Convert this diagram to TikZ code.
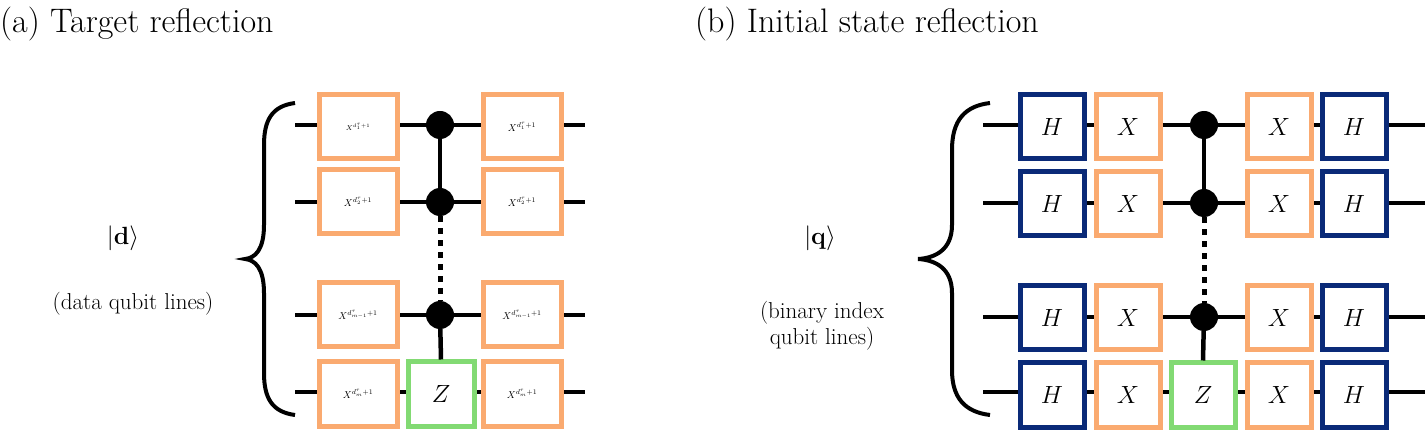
\documentclass[tikz,border=0pt]{standalone}
\usepackage{amsmath,amssymb}
\begin{document}
\begin{tikzpicture}[x=1pt,y=-1pt,
 wire/.style={line width=4.5pt},
 gate/.style={draw,fill=white,line width=5pt,minimum width=78pt,minimum height=64pt,inner sep=0pt,anchor=center},
 og/.style={gate,draw={rgb,255:red,250;green,170;blue,112}},
 bg/.style={gate,draw={rgb,255:red,10;green,42;blue,120}},
 gg/.style={gate,draw={rgb,255:red,130;green,218;blue,115}},
 ctl/.style={circle,fill=black,minimum size=28pt,inner sep=0pt},
 big/.style={font=\fontsize{40}{44}\selectfont},
 lbl/.style={font=\fontsize{23}{26}\selectfont},
 br/.style={line width=4pt}]
\useasboundingbox (0,0) rectangle (1425,430);
\node[anchor=base west,font=\fontsize{34}{38}\selectfont,inner sep=0] (ta) at (0,33) {(a) Target reflection};
\node[anchor=base west,font=\fontsize{34}{38}\selectfont,inner sep=0] (tb) at (695,33) {(b) Initial state reflection};
% left
\foreach \i/\y in {1/125,2/202,3/315,4/392}{
 \coordinate (la\i) at (295,\y); \coordinate (lb\i) at (585,\y);
 \draw[wire] (la\i) -- (lb\i);}
\node[og] (l11) at (358,127) {$\scriptstyle X^{d_1^\tau+1}$};
\node[og] (l12) at (358,202) {$X^{d_2^\tau+1}$};
\node[og] (l13) at (358,315) {$X^{d_{m-1}^\tau+1}$};
\node[og] (l14) at (358,394) {$X^{d_m^\tau+1}$};
\node[og] (l31) at (522,127) {$X^{d_1^\tau+1}$};
\node[og] (l32) at (522,202) {$X^{d_2^\tau+1}$};
\node[og] (l33) at (522,315) {$X^{d_{m-1}^\tau+1}$};
\node[og] (l34) at (522,394) {$X^{d_m^\tau+1}$};
\node[gg,minimum width=66pt] (lz) at (441,394) {\fontsize{40}{44}\selectfont$Z$};
\node[ctl] (lc1) at (440,125) {};
\node[ctl] (lc2) at (440,202) {};
\node[ctl] (lc3) at (440,315) {};
\draw[wire] (lc1) -- (lc2);
\draw[wire] (lc3) -- (lz.north);
\draw[line width=5pt,dash pattern=on 6pt off 6pt] (lc2.south) -- (lc3.north);
\draw[br] (295,103) .. controls (272,106) and (264,120) .. (264,145) -- (264,225) .. controls (264,250) and (255,258) .. (245,259)
 .. controls (255,260) and (264,268) .. (264,293) -- (264,373) .. controls (264,398) and (272,412) .. (295,415);
\node[big] (kd) at (123,238) {$|\mathbf{d}\rangle$};
\node[lbl] (dl) at (133,304) {(data qubit lines)};
% right
\foreach \i/\y in {1/125,2/203,3/317,4/392}{
 \coordinate (ra\i) at (983,\y); \coordinate (rb\i) at (1425,\y);
 \draw[wire] (ra\i) -- (rb\i);}
\foreach \i/\y in {1/127,2/204,3/318,4/395}{
 \node[bg,minimum width=64pt] (h\i) at (1052,\y) {\fontsize{40}{44}\selectfont$H$};
 \node[og,minimum width=64pt] (x\i) at (1128,\y) {\fontsize{40}{44}\selectfont$X$};
 \node[og,minimum width=64pt] (y\i) at (1279,\y) {\fontsize{40}{44}\selectfont$X$};
 \node[bg,minimum width=64pt] (g\i) at (1354,\y) {\fontsize{40}{44}\selectfont$H$};}
\node[gg,minimum width=64pt] (rz) at (1203,395) {\fontsize{40}{44}\selectfont$Z$};
\node[ctl] (rc1) at (1204,125) {};
\node[ctl] (rc2) at (1204,203) {};
\node[ctl] (rc3) at (1204,317) {};
\draw[wire] (rc1) -- (rc2);
\draw[wire] (rc3) -- (rz.north);
\draw[line width=5pt,dash pattern=on 6pt off 6pt] (rc2.south) -- (rc3.north);
\draw[br] (990,103) .. controls (965,106) and (952,120) .. (952,150) -- (952,225) .. controls (952,250) and (935,258) .. (918,259)
 .. controls (935,260) and (952,268) .. (952,293) -- (952,370) .. controls (952,398) and (965,412) .. (990,415);
\node[big] (kq) at (820,238) {$|\mathbf{q}\rangle$};
\node[lbl,align=center] (ql) at (822,326) {(binary index\\qubit lines)};
\end{tikzpicture}
\end{document}
